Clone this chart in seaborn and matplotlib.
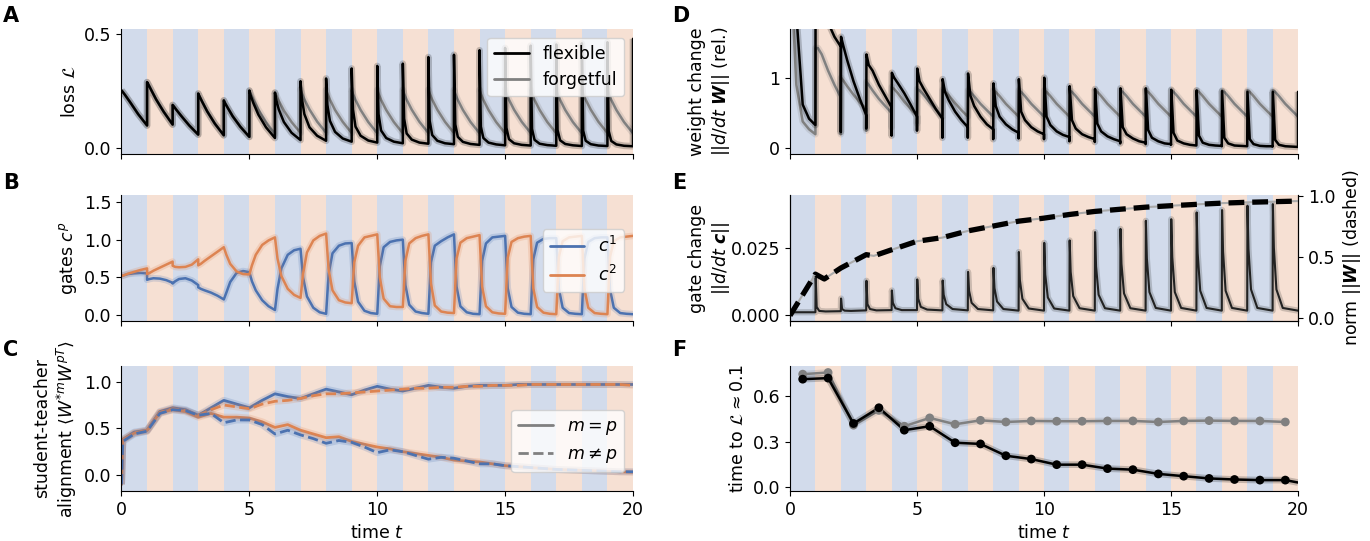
import numpy as np
import matplotlib
matplotlib.use('Agg')
import matplotlib.pyplot as plt
from matplotlib.lines import Line2D
import seaborn as sns

sns.set_style('ticks')
plt.rcParams['font.family'] = ['DejaVu Sans']
plt.rcParams['font.size'] = 12.5
plt.rcParams['mathtext.fontset'] = 'dejavusans'
for key in ['text.color', 'axes.labelcolor', 'xtick.color', 'ytick.color',
            'axes.edgecolor']:
    plt.rcParams[key] = 'black'

BLUE = '#4C72B0'
ORANGE = '#DD8452'
GREY = '#808080'

n_blocks = 20
xticks = [0, 5, 10, 15, 20]

# ---- A: loss, one row per block, sampled at these offsets inside the block
off_loss = [0, 0.05, 0.15, 0.35, 0.65, 1.0]
loss_flexible = [
    [0.254, 0.247, 0.232, 0.200, 0.150, 0.100],
    [0.290, 0.280, 0.258, 0.215, 0.160, 0.104],
    [0.190, 0.183, 0.168, 0.140, 0.100, 0.060],
    [0.240, 0.228, 0.205, 0.162, 0.108, 0.057],
    [0.210, 0.198, 0.178, 0.140, 0.094, 0.050],
    [0.253, 0.232, 0.200, 0.148, 0.092, 0.045],
    [0.244, 0.212, 0.170, 0.115, 0.068, 0.036],
    [0.294, 0.220, 0.150, 0.092, 0.055, 0.033],
    [0.306, 0.190, 0.120, 0.072, 0.043, 0.029],
    [0.350, 0.170, 0.095, 0.055, 0.034, 0.025],
    [0.361, 0.150, 0.078, 0.045, 0.029, 0.022],
    [0.371, 0.130, 0.065, 0.038, 0.025, 0.020],
    [0.400, 0.120, 0.058, 0.033, 0.022, 0.018],
    [0.410, 0.105, 0.050, 0.028, 0.019, 0.015],
    [0.430, 0.095, 0.045, 0.025, 0.017, 0.013],
    [0.440, 0.090, 0.040, 0.022, 0.015, 0.012],
    [0.450, 0.085, 0.037, 0.020, 0.014, 0.011],
    [0.455, 0.080, 0.035, 0.019, 0.013, 0.010],
    [0.460, 0.078, 0.033, 0.018, 0.012, 0.010],
    [0.465, 0.075, 0.032, 0.017, 0.011, 0.009],
]
loss_flexible_last = 0.48
loss_forgetful = [
    [0.254, 0.247, 0.232, 0.200, 0.150, 0.100],
    [0.290, 0.280, 0.258, 0.215, 0.160, 0.104],
    [0.190, 0.183, 0.168, 0.140, 0.100, 0.060],
    [0.240, 0.228, 0.205, 0.162, 0.108, 0.057],
    [0.210, 0.198, 0.178, 0.140, 0.094, 0.050],
    [0.253, 0.240, 0.215, 0.170, 0.115, 0.062],
    [0.244, 0.232, 0.208, 0.165, 0.115, 0.068],
    [0.258, 0.242, 0.215, 0.170, 0.117, 0.068],
    [0.256, 0.240, 0.213, 0.168, 0.116, 0.067],
    [0.255, 0.238, 0.212, 0.168, 0.115, 0.066],
    [0.256, 0.239, 0.212, 0.168, 0.115, 0.066],
    [0.256, 0.239, 0.213, 0.169, 0.116, 0.067],
    [0.257, 0.240, 0.213, 0.169, 0.116, 0.067],
    [0.256, 0.239, 0.212, 0.168, 0.115, 0.066],
    [0.256, 0.239, 0.212, 0.168, 0.115, 0.066],
    [0.257, 0.240, 0.213, 0.169, 0.116, 0.067],
    [0.256, 0.239, 0.212, 0.168, 0.115, 0.066],
    [0.256, 0.239, 0.212, 0.168, 0.115, 0.066],
    [0.257, 0.240, 0.213, 0.169, 0.116, 0.067],
    [0.256, 0.239, 0.212, 0.168, 0.115, 0.066],
]

# ---- B: gates
off_gate = [0, 0.1, 0.25, 0.5, 0.75, 1.0]
gate_c1 = [
    [0.52, 0.53, 0.545, 0.555, 0.56, 0.555],
    [0.47, 0.48, 0.49, 0.485, 0.465, 0.43],
    [0.42, 0.45, 0.48, 0.49, 0.46, 0.40],
    [0.37, 0.35, 0.33, 0.30, 0.26, 0.21],
    [0.21, 0.30, 0.44, 0.56, 0.585, 0.57],
    [0.57, 0.45, 0.33, 0.20, 0.12, 0.07],
    [0.07, 0.35, 0.62, 0.80, 0.86, 0.88],
    [0.88, 0.50, 0.25, 0.10, 0.04, 0.02],
    [0.02, 0.55, 0.82, 0.92, 0.95, 0.955],
    [0.955, 0.45, 0.18, 0.06, 0.03, 0.02],
    [0.02, 0.65, 0.90, 0.97, 0.99, 1.00],
    [1.00, 0.40, 0.14, 0.05, 0.03, 0.02],
    [0.02, 0.70, 0.92, 0.98, 1.03, 1.07],
    [1.07, 0.38, 0.12, 0.04, 0.02, 0.015],
    [0.015, 0.72, 0.95, 1.03, 1.04, 1.05],
    [1.05, 0.36, 0.11, 0.035, 0.02, 0.015],
    [0.015, 0.74, 0.96, 1.01, 1.02, 1.02],
    [1.02, 0.35, 0.10, 0.03, 0.02, 0.015],
    [0.015, 0.75, 0.97, 1.02, 1.03, 1.03],
    [1.03, 0.34, 0.10, 0.03, 0.02, 0.015],
]
gate_c2 = [
    [0.52, 0.53, 0.55, 0.575, 0.60, 0.62],
    [0.545, 0.56, 0.59, 0.63, 0.67, 0.71],
    [0.655, 0.64, 0.635, 0.64, 0.67, 0.74],
    [0.66, 0.68, 0.72, 0.78, 0.84, 0.90],
    [0.90, 0.80, 0.68, 0.58, 0.545, 0.54],
    [0.54, 0.66, 0.80, 0.93, 0.99, 1.03],
    [1.03, 0.75, 0.52, 0.35, 0.27, 0.23],
    [0.23, 0.55, 0.83, 0.99, 1.05, 1.08],
    [1.08, 0.60, 0.33, 0.20, 0.17, 0.16],
    [0.16, 0.70, 0.92, 1.03, 1.05, 1.07],
    [1.07, 0.50, 0.22, 0.12, 0.11, 0.11],
    [0.11, 0.72, 0.95, 1.02, 1.05, 1.07],
    [1.07, 0.42, 0.13, 0.05, 0.035, 0.03],
    [0.03, 0.75, 0.96, 1.02, 1.04, 1.06],
    [1.06, 0.38, 0.12, 0.04, 0.025, 0.02],
    [0.02, 0.76, 0.97, 1.02, 1.04, 1.05],
    [1.05, 0.36, 0.11, 0.035, 0.02, 0.015],
    [0.015, 0.77, 0.98, 1.03, 1.04, 1.05],
    [1.05, 0.35, 0.10, 0.03, 0.02, 0.015],
    [0.015, 0.77, 0.98, 1.03, 1.04, 1.05],
]

# ---- C: student-teacher alignment
t_align = [0, 0.05, 0.5, 1, 1.5, 2, 2.5, 3, 3.5, 4, 4.5, 5, 5.5, 6, 6.5, 7, 7.5,
           8, 8.5, 9, 9.5, 10, 10.5, 11, 11.5, 12, 12.5, 13, 13.5, 14, 14.5,
           15, 15.5, 16, 16.5, 17, 17.5, 18, 18.5, 19, 19.5, 20]
align_up_c1 = [-0.10, 0.38, 0.46, 0.48, 0.68, 0.72, 0.70, 0.64, 0.72, 0.80, 0.76,
               0.72, 0.80, 0.87, 0.84, 0.82, 0.87, 0.92, 0.89, 0.86, 0.91, 0.95,
               0.92, 0.90, 0.93, 0.96, 0.94, 0.93, 0.95, 0.96, 0.96, 0.96, 0.97,
               0.97, 0.97, 0.97, 0.97, 0.97, 0.97, 0.97, 0.97, 0.97]
align_up_c2 = [-0.10, 0.38, 0.45, 0.47, 0.67, 0.71, 0.69, 0.64, 0.70, 0.75, 0.73,
               0.71, 0.76, 0.79, 0.80, 0.82, 0.85, 0.87, 0.87, 0.88, 0.89, 0.90,
               0.91, 0.92, 0.93, 0.93, 0.94, 0.94, 0.95, 0.95, 0.96, 0.96, 0.96,
               0.97, 0.97, 0.97, 0.97, 0.97, 0.97, 0.97, 0.97, 0.96]
align_lo_c1 = [-0.10, 0.36, 0.44, 0.47, 0.66, 0.70, 0.69, 0.64, 0.66, 0.56, 0.59,
               0.59, 0.54, 0.44, 0.48, 0.43, 0.39, 0.34, 0.37, 0.35, 0.30, 0.24,
               0.27, 0.25, 0.21, 0.17, 0.19, 0.18, 0.15, 0.12, 0.12, 0.10, 0.09,
               0.08, 0.07, 0.06, 0.055, 0.05, 0.045, 0.04, 0.035, 0.035]
align_lo_c2 = [-0.10, 0.37, 0.45, 0.48, 0.67, 0.70, 0.68, 0.62, 0.66, 0.62, 0.62,
               0.61, 0.57, 0.51, 0.54, 0.48, 0.44, 0.40, 0.41, 0.36, 0.33, 0.30,
               0.28, 0.25, 0.23, 0.21, 0.19, 0.16, 0.15, 0.14, 0.12, 0.10, 0.09,
               0.08, 0.07, 0.06, 0.055, 0.05, 0.045, 0.04, 0.035, 0.03]

# ---- D: weight change (dip at switch, then peak, then decay)
off_wchange = [0, 0.01, 0.1, 0.25, 0.5, 0.75, 1.0]
wchange_flexible = [
    [3.0, 3.0, 2.6, 1.9, 0.62, 0.42, 0.33],
    [0.33, 3.0, 2.9, 2.4, 1.78, 1.58, 1.44],
    [0.23, 1.58, 1.45, 1.25, 0.95, 0.70, 0.47],
    [0.28, 1.33, 1.18, 1.10, 0.90, 0.74, 0.58],
    [0.18, 1.07, 1.00, 0.92, 0.78, 0.62, 0.45],
    [0.25, 1.13, 0.95, 0.85, 0.70, 0.55, 0.42],
    [0.15, 0.98, 0.80, 0.68, 0.52, 0.40, 0.30],
    [0.15, 1.06, 0.75, 0.60, 0.45, 0.34, 0.27],
    [0.13, 0.92, 0.60, 0.45, 0.34, 0.27, 0.22],
    [0.14, 0.98, 0.52, 0.40, 0.30, 0.24, 0.20],
    [0.13, 1.00, 0.45, 0.33, 0.24, 0.19, 0.16],
    [0.10, 0.88, 0.40, 0.28, 0.20, 0.16, 0.13],
    [0.09, 0.84, 0.35, 0.24, 0.17, 0.13, 0.10],
    [0.07, 0.85, 0.30, 0.20, 0.14, 0.10, 0.08],
    [0.06, 0.85, 0.26, 0.15, 0.10, 0.07, 0.06],
    [0.05, 0.83, 0.22, 0.11, 0.07, 0.05, 0.04],
    [0.04, 0.82, 0.18, 0.08, 0.05, 0.04, 0.035],
    [0.03, 0.81, 0.15, 0.07, 0.04, 0.035, 0.03],
    [0.03, 0.80, 0.13, 0.06, 0.035, 0.03, 0.03],
    [0.025, 0.80, 0.12, 0.05, 0.03, 0.025, 0.02],
]
wchange_flexible_last = 0.80
wchange_forgetful = [
    [3.0, 3.0, 2.0, 0.90, 0.38, 0.27, 0.20],
    [0.20, 1.42, 1.42, 1.33, 1.10, 0.90, 0.72],
    [0.20, 1.00, 0.96, 0.88, 0.76, 0.65, 0.56],
    [0.25, 0.94, 0.90, 0.82, 0.70, 0.60, 0.50],
    [0.30, 0.87, 0.84, 0.78, 0.66, 0.56, 0.46],
    [0.35, 0.84, 0.82, 0.76, 0.65, 0.55, 0.45],
    [0.45, 0.83, 0.81, 0.75, 0.64, 0.54, 0.45],
    [0.45, 0.82, 0.80, 0.74, 0.63, 0.54, 0.45],
    [0.45, 0.82, 0.80, 0.74, 0.63, 0.54, 0.45],
    [0.45, 0.82, 0.80, 0.74, 0.63, 0.54, 0.45],
    [0.45, 0.82, 0.80, 0.74, 0.63, 0.54, 0.45],
    [0.45, 0.82, 0.80, 0.74, 0.63, 0.54, 0.45],
    [0.45, 0.82, 0.80, 0.74, 0.63, 0.54, 0.45],
    [0.45, 0.82, 0.80, 0.74, 0.63, 0.54, 0.45],
    [0.45, 0.82, 0.80, 0.74, 0.63, 0.54, 0.45],
    [0.45, 0.82, 0.80, 0.74, 0.63, 0.54, 0.45],
    [0.45, 0.82, 0.80, 0.74, 0.63, 0.54, 0.45],
    [0.45, 0.82, 0.80, 0.74, 0.63, 0.54, 0.45],
    [0.45, 0.82, 0.80, 0.74, 0.63, 0.54, 0.45],
    [0.45, 0.82, 0.80, 0.74, 0.63, 0.54, 0.45],
]

# ---- E: gate change and weight norm
off_cchange = [0, 0.01, 0.05, 0.15, 0.4, 1.0]
cchange = [
    [0.0010, 0.0010, 0.0010, 0.0010, 0.0010, 0.0010],
    [0.0010, 0.0146, 0.0030, 0.0015, 0.0013, 0.0014],
    [0.0014, 0.0061, 0.0022, 0.0016, 0.0015, 0.0017],
    [0.0017, 0.0127, 0.0040, 0.0022, 0.0017, 0.0018],
    [0.0018, 0.0091, 0.0045, 0.0025, 0.0018, 0.0018],
    [0.0018, 0.0132, 0.0060, 0.0030, 0.0020, 0.0017],
    [0.0017, 0.0128, 0.0075, 0.0040, 0.0022, 0.0017],
    [0.0017, 0.0160, 0.0090, 0.0045, 0.0022, 0.0017],
    [0.0017, 0.0175, 0.0100, 0.0050, 0.0022, 0.0016],
    [0.0016, 0.0234, 0.0130, 0.0060, 0.0024, 0.0016],
    [0.0016, 0.0268, 0.0150, 0.0065, 0.0024, 0.0016],
    [0.0016, 0.0277, 0.0160, 0.0070, 0.0025, 0.0016],
    [0.0016, 0.0308, 0.0180, 0.0075, 0.0025, 0.0016],
    [0.0016, 0.0320, 0.0190, 0.0080, 0.0025, 0.0016],
    [0.0016, 0.0350, 0.0210, 0.0085, 0.0026, 0.0016],
    [0.0016, 0.0356, 0.0215, 0.0085, 0.0026, 0.0016],
    [0.0016, 0.0381, 0.0230, 0.0090, 0.0026, 0.0016],
    [0.0016, 0.0390, 0.0235, 0.0090, 0.0026, 0.0016],
    [0.0016, 0.0406, 0.0245, 0.0095, 0.0026, 0.0016],
    [0.0016, 0.0412, 0.0250, 0.0095, 0.0026, 0.0016],
]
t_norm = [0, 1, 1.35, 2, 3, 3.3, 4, 5, 6, 7, 8, 9, 10, 11, 12, 13, 14, 15,
          16, 17, 18, 19, 20]
norm_w = [0.02, 0.36, 0.32, 0.41, 0.52, 0.51, 0.56, 0.63, 0.66, 0.715, 0.755,
          0.795, 0.82, 0.85, 0.875, 0.893, 0.91, 0.922, 0.933, 0.943, 0.95,
          0.955, 0.96]

# ---- F: time to reach loss 0.1
t_blocks = [0.5, 1.5, 2.5, 3.5, 4.5, 5.5, 6.5, 7.5, 8.5, 9.5, 10.5, 11.5, 12.5,
            13.5, 14.5, 15.5, 16.5, 17.5, 18.5, 19.5]
ttl_flexible = [0.713, 0.72, 0.42, 0.524, 0.376, 0.402, 0.293, 0.285, 0.207,
                0.185, 0.148, 0.148, 0.122, 0.115, 0.087, 0.072, 0.057, 0.05,
                0.046, 0.046]
ttl_flexible_end = 0.03
ttl_forgetful = [0.746, 0.757, 0.409, 0.507, 0.402, 0.457, 0.415, 0.441, 0.43,
                 0.437, 0.435, 0.435, 0.437, 0.437, 0.43, 0.437, 0.439, 0.437,
                 0.437, 0.43]


def stitch(blocks, offs):
    t, v = [], []
    for k, blk in enumerate(blocks):
        for o, val in zip(offs, blk):
            t.append(k + o)
            v.append(val)
    return np.array(t), np.array(v)


def shade(ax):
    for k in range(n_blocks):
        ax.axvspan(k, k + 1, color=BLUE if k % 2 == 0 else ORANGE,
                   alpha=0.25, lw=0, zorder=0)
    ax.set_xlim(0, 20)
    ax.set_xticks(xticks)


def line(ax, t, v, color, lw=1.8, band=True, **kw):
    if band:
        ax.plot(t, v, color=color, lw=lw + 3, alpha=0.2, solid_capstyle='butt')
    sns.lineplot(x=t, y=v, ax=ax, color=color, lw=lw, estimator=None,
                 sort=False, **kw)


W, H = 1370, 541


def box(x0, x1, y0, y1):
    return [x0 / W, 1 - y1 / H, (x1 - x0) / W, (y1 - y0) / H]


fig = plt.figure(figsize=(13.7, 5.41), dpi=100)
axA = fig.add_axes(box(121.5, 633, 29, 154))
axB = fig.add_axes(box(121.5, 633, 195, 321))
axC = fig.add_axes(box(121.5, 633, 366, 491))
axD = fig.add_axes(box(790, 1298, 29, 154))
axE = fig.add_axes(box(790, 1298, 195, 321))
axF = fig.add_axes(box(790, 1298, 366, 491))

# A
shade(axA)
t, v = stitch(loss_forgetful, off_loss)
line(axA, t, v, GREY)
t, v = stitch(loss_flexible, off_loss)
t = np.append(t, 20)
v = np.append(v, loss_flexible_last)
line(axA, t, v, 'black')
axA.set_ylim(-0.025, 0.523)
axA.set_yticks([0.0, 0.5])
axA.set_ylabel(r'loss $\mathcal{L}$')
axA.legend(handles=[Line2D([], [], color='black', lw=2, label='flexible'),
                    Line2D([], [], color=GREY, lw=2, label='forgetful')],
           loc='upper right', fontsize=12.5)

# B
shade(axB)
t, v = stitch(gate_c1, off_gate)
line(axB, t, v, BLUE)
t, v = stitch(gate_c2, off_gate)
line(axB, t, v, ORANGE)
axB.set_ylim(-0.075, 1.59)
axB.set_yticks([0.0, 0.5, 1.0, 1.5])
axB.set_ylabel(r'gates $c^p$')
axB.legend(handles=[Line2D([], [], color=BLUE, lw=2, label=r'$c^1$'),
                    Line2D([], [], color=ORANGE, lw=2, label=r'$c^2$')],
           loc='center right', bbox_to_anchor=(1.0, 0.48), fontsize=12.5)

# C
shade(axC)
line(axC, t_align, align_up_c1, BLUE, lw=2)
line(axC, t_align, align_up_c2, ORANGE, lw=2, linestyle='--')
line(axC, t_align, align_lo_c2, ORANGE, lw=2)
line(axC, t_align, align_lo_c1, BLUE, lw=2, linestyle='--')
axC.set_ylim(-0.171, 1.168)
axC.set_yticks([0.0, 0.5, 1.0])
axC.set_ylabel('student-teacher\n' + r'alignment $\langle W^{*m}W^{pT}\rangle$')
axC.set_xlabel(r'time $t$')
axC.legend(handles=[Line2D([], [], color=GREY, lw=2, label=r'$m=p$'),
                    Line2D([], [], color=GREY, lw=2, ls='--', label=r'$m\neq p$')],
           loc='center right', bbox_to_anchor=(1.0, 0.4), fontsize=12.5)

# D
shade(axD)
t, v = stitch(wchange_forgetful, off_wchange)
line(axD, t, v, GREY)
t, v = stitch(wchange_flexible, off_wchange)
t = np.append(t, 20)
v = np.append(v, wchange_flexible_last)
line(axD, t, v, 'black')
axD.set_ylim(-0.08, 1.69)
axD.set_yticks([0, 1])
axD.set_ylabel('weight change\n' + r'$||d/dt\;\mathbfit{W}||$ (rel.)')
axD.yaxis.set_label_coords(-0.115, 0.5)

# E
shade(axE)
t, v = stitch(cchange, off_cchange)
line(axE, t, v, '#222222', lw=1.5)
axE.set_ylim(-0.00225, 0.0446)
axE.set_yticks([0.0, 0.025])
axE.set_yticklabels(['0.000', '0.025'])
axE.set_ylabel('gate change\n' + r'$||d/dt\;\mathbfit{c}||$')
axE.yaxis.set_label_coords(-0.115, 0.5)
axE2 = axE.twinx()
axE2.plot(t_norm, norm_w, color='#aaaaaa', lw=1.5)
sns.lineplot(x=t_norm, y=norm_w, ax=axE2, color='black', lw=3.8,
             estimator=None, sort=False, linestyle=(0, (3, 1.5)))
axE2.set_ylim(-0.025, 1.01)
axE2.set_yticks([0.0, 0.5, 1.0])
axE2.set_ylabel(r'norm $||\mathbfit{W}||$ (dashed)')
axE2.spines['top'].set_visible(False)
axE2.set_xlim(0, 20)

# F
shade(axF)
tt = np.append(t_blocks, 20)
line(axF, t_blocks, ttl_forgetful, GREY)
sns.scatterplot(x=t_blocks, y=ttl_forgetful, ax=axF, color=GREY, s=40,
                edgecolor='none', zorder=5)
line(axF, tt, np.append(ttl_flexible, ttl_flexible_end), 'black')
sns.scatterplot(x=t_blocks, y=ttl_flexible, ax=axF, color='black', s=40,
                edgecolor='none', zorder=6)
axF.set_ylim(-0.026, 0.80)
axF.set_yticks([0.0, 0.3, 0.6])
axF.set_ylabel(r'time to $\mathcal{L} \approx 0.1$')
axF.set_xlabel(r'time $t$')

for ax in [axA, axB, axD, axE]:
    ax.set_xticklabels([])
for ax in [axA, axB, axC, axD, axF]:
    sns.despine(ax=ax)
sns.despine(ax=axE, right=False)

for lab, x, y in [('A', 3, 6), ('B', 3, 173), ('C', 3, 340),
                  ('D', 672, 6), ('E', 672, 173), ('F', 672, 340)]:
    fig.text(x / W, 1 - y / H, lab, fontsize=15, fontweight='bold', va='top')

fig.savefig('out.png', dpi=100)
